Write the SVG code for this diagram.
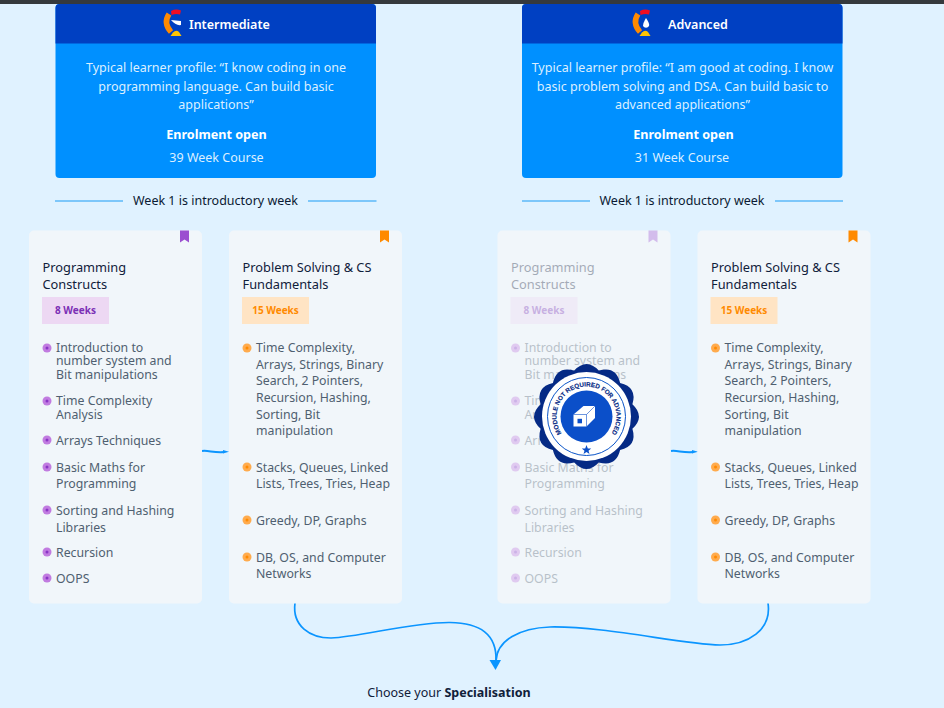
<svg xmlns="http://www.w3.org/2000/svg" width="944" height="708" viewBox="0 0 944 708">
<style>
text{font-family:"Noto Sans","Open Sans","Liberation Sans",sans-serif}
.p{font-size:12.500px;fill:#dcefff;text-anchor:middle}
.en{font-size:12.600px;font-weight:700;fill:#fff;text-anchor:middle}
.hd{font-size:12.500px;font-weight:600;fill:#fff}
.wk{font-size:12.500px;fill:#0b1a33;text-anchor:middle}
.t{font-size:12.800px;fill:#10203a}
.i{font-size:12.300px;fill:#4f5f70}
.b{font-size:10px;font-weight:700;text-anchor:middle}
.card{fill:#f1f6fa}
.wl{stroke:#1a9bf5;stroke-width:1.2}
.c{fill:none;stroke:#0b95ff;stroke-width:1.7}
.s{fill:none;stroke:#0b95ff;stroke-width:2}
.dim{opacity:.35}
</style>
<defs>
<g id="gauge">
<path d="M-6 -10 Q-12 -1 -4 8" fill="none" stroke="#ff8a00" stroke-width="5.500"/>
<path d="M-4 -13 Q1 -15.500 6 -13.500 L5 -9.500 Q1 -10.500 -3.500 -9Z" fill="#f20d22"/>
<path d="M-2 8.500 Q1 5.500 4 8 L6.500 12 H-4.500Z" fill="#ffc400"/>
</g>
<g id="dotP"><circle r="4.500" fill="#c17be0"/><circle r="1.500" fill="#8a35c5"/></g>
<g id="dotO"><circle r="4.500" fill="#ffab4d"/><circle r="1.500" fill="#ff8a00"/></g>
<path id="arc" d="M-23 19.300 A30 30 0 1 1 23 19.300"/>
</defs>
<rect width="944" height="708" fill="#e0f2ff"/>
<rect width="944" height="4" fill="#35393d"/>

<g id="intermediate">
<path d="M55.500 8 Q55.500 4 59.500 4 H372 Q376 4 376 8 V174 Q376 178 372 178 H59.500 Q55.500 178 55.500 174Z" fill="#0090ff"/>
<path d="M55.500 8 Q55.500 4 59.500 4 H372 Q376 4 376 8 V43.500 H55.500Z" fill="#0040c2"/>
<use href="#gauge" x="175" y="24"/>
<path d="M171 20 L181 21 V25 Q176 26 171 20Z" fill="#fff"/>
<text class="hd" x="189" y="29">Intermediate</text>
<text class="p" x="216" y="72">Typical learner profile: “I know coding in one</text>
<text class="p" x="216" y="90.500">programming language. Can build basic</text>
<text class="p" x="216" y="109">applications”</text>
<text class="en" x="216.500" y="139">Enrolment open</text>
<text class="p" x="216.500" y="162">39 Week Course</text>
</g>
<g id="advanced">
<path d="M522 8 Q522 4 526 4 H838.500 Q842.500 4 842.500 8 V174 Q842.500 178 838.500 178 H526 Q522 178 522 174Z" fill="#0090ff"/>
<path d="M522 8 Q522 4 526 4 H838.500 Q842.500 4 842.500 8 V43.500 H522Z" fill="#0040c2"/>
<use href="#gauge" x="644" y="24"/>
<path d="M646 18 Q650 24 649 26 A3.500 3.500 0 0 1 643 26 Q643 23 646 18Z" fill="#fff"/>
<text class="hd" x="668" y="29">Advanced</text>
<text class="p" x="682.500" y="72">Typical learner profile: “I am good at coding. I know</text>
<text class="p" x="682.500" y="90.500">basic problem solving and DSA. Can build basic to</text>
<text class="p" x="682.500" y="109">advanced applications”</text>
<text class="en" x="683.500" y="139">Enrolment open</text>
<text class="p" x="682" y="162">31 Week Course</text>
</g>
<g id="week-left">
<path class="wl" d="M55 201 H123 M308 201 H376.500"/>
<text class="wk" x="215.500" y="205">Week 1 is introductory week</text>
</g>
<g id="week-right">
<path class="wl" d="M522 201 H590 M775 201 H843"/>
<text class="wk" x="682" y="205">Week 1 is introductory week</text>
</g>

<g id="connectors">
<path class="s" d="M202 451 C208 450 214 453 224 452"/>
<path d="M223 450 L229 451.800 L223 453.500Z" fill="#0b95ff"/>
<path class="s" d="M671 451 C677 450 683 453 693 452"/>
<path d="M692 450 L698 451.800 L692 453.500Z" fill="#0b95ff"/>
<path class="c" d="M295 603 C292 626 310 638 331 638 C360 637 412 622 450 622.500 C480 623 497 634 496 661"/>
<path class="c" d="M768 603 C772 630 748 645 720 645 C680 644 605 626 550 627 C520 628 497 640 496 661"/>
<path d="M489.500 660 H501 L495.500 670Z" fill="#0b95ff"/>
</g>

<g id="programming-1">
<rect class="card" x="29" y="230.500" width="173" height="373" rx="5"/>
<path d="M180 230.500 H189 V242.500 L184.500 239.500 L180 242.500Z" fill="#9b4fd0"/>
<text class="t" x="42.500" y="272">Programming</text>
<text class="t" x="42.500" y="289">Constructs</text>
<rect x="42" y="297" width="67" height="27" fill="#edd8f3"/>
<text class="b" x="75.500" y="314" fill="#7b2fb5">8 Weeks</text>
<use href="#dotP" x="47" y="348"/>
<text class="i" x="56" y="352">Introduction to</text>
<text class="i" x="56" y="365">number system and</text>
<text class="i" x="56" y="379">Bit manipulations</text>
<use href="#dotP" x="47" y="401"/>
<text class="i" x="56" y="405">Time Complexity</text>
<text class="i" x="56" y="419">Analysis</text>
<use href="#dotP" x="47" y="440"/>
<text class="i" x="56" y="445">Arrays Techniques</text>
<use href="#dotP" x="47" y="467"/>
<text class="i" x="56" y="472">Basic Maths for</text>
<text class="i" x="56" y="488">Programming</text>
<use href="#dotP" x="47" y="510"/>
<text class="i" x="56" y="515">Sorting and Hashing</text>
<text class="i" x="56" y="532">Libraries</text>
<use href="#dotP" x="47" y="552"/>
<text class="i" x="56" y="557">Recursion</text>
<use href="#dotP" x="47" y="578"/>
<text class="i" x="56" y="583">OOPS</text>
</g>
<g id="problem-1">
<rect class="card" x="229" y="230.500" width="173" height="373" rx="5"/>
<path d="M380 230.500 H389 V242.500 L384.500 239.500 L380 242.500Z" fill="#ff8a00"/>
<text class="t" x="242.500" y="272">Problem Solving &amp; CS</text>
<text class="t" x="242.500" y="289">Fundamentals</text>
<rect x="242" y="297" width="67" height="27" fill="#ffe4c4"/>
<text class="b" x="275.500" y="314" fill="#ff8a00">15 Weeks</text>
<use href="#dotO" x="247" y="348"/>
<text class="i" x="256" y="352">Time Complexity,</text>
<text class="i" x="256" y="369">Arrays, Strings, Binary</text>
<text class="i" x="256" y="385">Search, 2 Pointers,</text>
<text class="i" x="256" y="402">Recursion, Hashing,</text>
<text class="i" x="256" y="419">Sorting, Bit</text>
<text class="i" x="256" y="435">manipulation</text>
<use href="#dotO" x="247" y="467"/>
<text class="i" x="256" y="472">Stacks, Queues, Linked</text>
<text class="i" x="256" y="488">Lists, Trees, Tries, Heap</text>
<use href="#dotO" x="247" y="520"/>
<text class="i" x="256" y="525">Greedy, DP, Graphs</text>
<use href="#dotO" x="247" y="557"/>
<text class="i" x="256" y="562">DB, OS, and Computer</text>
<text class="i" x="256" y="578">Networks</text>
</g>
<g id="programming-2">
<rect class="card" x="497.500" y="230.500" width="173" height="373" rx="5"/>
<g class="dim">
<path d="M648.500 230.500 H657.500 V242.500 L653 239.500 L648.500 242.500Z" fill="#9b4fd0"/>
<text class="t" x="511" y="272">Programming</text>
<text class="t" x="511" y="289">Constructs</text>
<rect x="510.500" y="297" width="67" height="27" fill="#edd8f3"/>
<text class="b" x="544" y="314" fill="#7b2fb5">8 Weeks</text>
<use href="#dotP" x="515.500" y="348"/>
<text class="i" x="524.500" y="352">Introduction to</text>
<text class="i" x="524.500" y="365">number system and</text>
<text class="i" x="524.500" y="379">Bit manipulations</text>
<use href="#dotP" x="515.500" y="401"/>
<text class="i" x="524.500" y="405">Time Complexity</text>
<text class="i" x="524.500" y="419">Analysis</text>
<use href="#dotP" x="515.500" y="440"/>
<text class="i" x="524.500" y="445">Arrays Techniques</text>
<use href="#dotP" x="515.500" y="467"/>
<text class="i" x="524.500" y="472">Basic Maths for</text>
<text class="i" x="524.500" y="488">Programming</text>
<use href="#dotP" x="515.500" y="510"/>
<text class="i" x="524.500" y="515">Sorting and Hashing</text>
<text class="i" x="524.500" y="532">Libraries</text>
<use href="#dotP" x="515.500" y="552"/>
<text class="i" x="524.500" y="557">Recursion</text>
<use href="#dotP" x="515.500" y="578"/>
<text class="i" x="524.500" y="583">OOPS</text>
</g>
</g>
<g id="problem-2">
<rect class="card" x="697.500" y="230.500" width="173" height="373" rx="5"/>
<path d="M848.500 230.500 H857.500 V242.500 L853 239.500 L848.500 242.500Z" fill="#ff8a00"/>
<text class="t" x="711" y="272">Problem Solving &amp; CS</text>
<text class="t" x="711" y="289">Fundamentals</text>
<rect x="710.500" y="297" width="67" height="27" fill="#ffe4c4"/>
<text class="b" x="744" y="314" fill="#ff8a00">15 Weeks</text>
<use href="#dotO" x="715.500" y="348"/>
<text class="i" x="724.500" y="352">Time Complexity,</text>
<text class="i" x="724.500" y="369">Arrays, Strings, Binary</text>
<text class="i" x="724.500" y="385">Search, 2 Pointers,</text>
<text class="i" x="724.500" y="402">Recursion, Hashing,</text>
<text class="i" x="724.500" y="419">Sorting, Bit</text>
<text class="i" x="724.500" y="435">manipulation</text>
<use href="#dotO" x="715.500" y="467"/>
<text class="i" x="724.500" y="472">Stacks, Queues, Linked</text>
<text class="i" x="724.500" y="488">Lists, Trees, Tries, Heap</text>
<use href="#dotO" x="715.500" y="520"/>
<text class="i" x="724.500" y="525">Greedy, DP, Graphs</text>
<use href="#dotO" x="715.500" y="557"/>
<text class="i" x="724.500" y="562">DB, OS, and Computer</text>
<text class="i" x="724.500" y="578">Networks</text>
</g>

<g id="badge" transform="translate(586.500 416.500)">
<path fill="#052a85" d="M-12.300 -45.900 Q0 -59 12.300 -45.900 Q29.500 -51 33.600 -33.600 Q51 -29.500 45.900 -12.300 Q59 0 45.900 12.300 Q51 29.500 33.600 33.600 Q29.500 51 12.300 45.900 Q0 59 -12.300 45.900 Q-29.500 51 -33.600 33.600 Q-51 29.500 -45.900 12.300 Q-59 0 -45.900 -12.300 Q-51 -29.500 -33.600 -33.600 Q-29.500 -51 -12.300 -45.900Z"/>
<circle r="44.500" fill="#fff"/>
<circle r="39" fill="none" stroke="#0b55c8" stroke-width="1"/>
<circle r="26" fill="#0b4fc9"/>
<path d="M-13 -2 L-3 -10.500 H8.500 V1.500 L0 10 H-13Z" fill="#fff"/>
<path d="M-13 -2 H0 V10 M0 -2 L8.500 -10.500" fill="none" stroke="#0b4fc9" stroke-width=".6"/>
<rect x="-9" y="2.300" width="4.500" height="4.500" fill="#0b4fc9"/>
<text font-size="6.300" font-weight="700" fill="#052a85" stroke="#052a85" stroke-width=".15" style="font-family:'Liberation Sans',sans-serif"><textPath href="#arc" startOffset="50%" text-anchor="middle">MODULE NOT REQUIRED FOR ADVANCED</textPath></text>
<path d="M0 28.500 L1.300 32 L4.700 32 L2 34.200 L3 37.500 L0 35.500 L-3 37.500 L-2 34.200 L-4.700 32 L-1.300 32Z" fill="#0b4fc9"/>
</g>

<g id="specialisation">
<text x="449" y="697" font-size="12.500" fill="#10203a" text-anchor="middle">Choose your <tspan font-weight="700">Specialisation</tspan></text>
</g>
</svg>
